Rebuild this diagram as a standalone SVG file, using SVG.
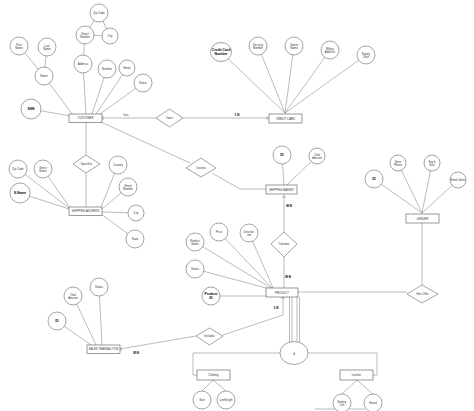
<svg xmlns="http://www.w3.org/2000/svg" width="474" height="411" viewBox="0 0 474 411">
<style>
.a{fill:#fff;stroke:#666;stroke-width:0.6}
.e{fill:#fff;stroke:#555;stroke-width:0.6}
.l{fill:none;stroke:#777;stroke-width:0.5}
text{font-family:"Liberation Sans",Arial,sans-serif;font-size:2.8px;fill:#333;text-anchor:middle}
.b{font-weight:bold;font-size:3.4px;fill:#000}
.lab{font-weight:bold;font-size:3px;fill:#000}
.lab2{font-size:3px;fill:#444}
</style>
<rect width="474" height="411" fill="#fff"/>
<g id="connectors">
<path class="l" d="M99,13L85,35M99,13L110,36M85,35L110,36M85,35L83,64M83,64L86,114M19,46L44,76M47,47L44,76M44,76L72,114M107,69L92,114M127,68L96,114M143,83L100,114M31,109L70,116"/>
<path class="l" d="M102,118H156M183,118H269"/>
<path class="l" d="M221,52L285,113M258,46L285,113M294,46L285,113M330,50L285,113M366,55L285,113"/>
<path class="l" d="M86,122V155M86,173V207"/>
<path class="l" d="M18,169L69,208M43,169L70,208M20,193L69,209M118,165L101,207M128,187L102,209M136,213L102,212M135,239L101,214"/>
<path class="l" d="M101,122L190,163M212,173L240,189H266"/>
<path class="l" d="M282,155L284,185M317,156L287,185"/>
<path class="l" d="M284,194V232M284,257V288"/>
<path class="l" d="M195,242L271,288M219,232L272,288M249,233L273,288M195,269L270,289M211,296H266"/>
<path class="l" d="M298,292H407M422,285V223"/>
<path class="l" d="M374,179L422,213M398,163L422,213M432,163L422,213M458,180L422,213"/>
<path class="l" d="M283,297V315L223,335M196,336L120,349"/>
<path class="l" d="M57,321L91,345M73,296L96,345M99,287L102,345"/>
<path class="l" d="M289.5,297V343M292,297V342M297,297V342M299.5,297V343"/>
<path class="l" d="M280,353H193V375H197M308,353H377V375H373"/>
<path class="l" d="M213,380L202,391M213,380L226,391M357,380L342,394M357,380L373,394M315,409H365"/>
<path class="l" d="M104,116L102,118L104,120M267,116V120M284,196L282,198M284,196L286,198M285,299L283,297L281,299M122,347L120,349L122,351"/>
<text class="lab2" x="126" y="116">has</text>
<text class="lab" x="237" y="116">1:N</text>
<text class="lab" x="289" y="207">M:N</text>
<text class="lab" x="288" y="278">M:N</text>
<text class="lab" x="276" y="309">1:N</text>
<text class="lab" x="136" y="354">M:N</text>
</g>
<g id="customer"><rect class="e" x="69" y="114" width="33" height="8.5"/><text x="85.5" y="119.2">CUSTOMER</text></g>
<g id="a_zip1"><circle class="a" cx="99" cy="13" r="9"/><text x="99" y="14">Zip Code</text></g>
<g id="a_stnum1"><circle class="a" cx="85" cy="35" r="9"/><text x="85" y="34.5">Street</text><text x="85" y="37.5">Number</text></g>
<g id="a_city1"><circle class="a" cx="110" cy="36" r="8"/><text x="110" y="37">City</text></g>
<g id="a_fname"><circle class="a" cx="19" cy="46" r="9"/><text x="19" y="45.5">First</text><text x="19" y="48.5">Name</text></g>
<g id="a_lname"><circle class="a" cx="47" cy="47" r="9"/><text x="47" y="46.5">Last</text><text x="47" y="49.5">Name</text></g>
<g id="a_address"><circle class="a" cx="83" cy="64" r="9"/><text x="83" y="65">Address</text></g>
<g id="a_number"><circle class="a" cx="107" cy="69" r="9"/><text x="107" y="70">Number</text></g>
<g id="a_email"><circle class="a" cx="127" cy="68" r="8"/><text x="127" y="69">Email</text></g>
<g id="a_status1"><circle class="a" cx="143" cy="83" r="9"/><text x="143" y="84">Status</text></g>
<g id="a_name"><circle class="a" cx="44" cy="76" r="9"/><text x="44" y="77">Name</text></g>
<g id="a_ssn"><circle class="a" cx="31" cy="109" r="10"/><text class="b" x="31" y="110.2">SSN</text></g>
<g id="owns"><polygon class="a" points="156,118 169.5,109 183,118 169.5,127"/><text x="169.5" y="119">Owns</text></g>
<g id="creditcard"><rect class="e" x="269" y="114" width="33" height="9"/><text x="285.5" y="119.5">CREDIT CARD</text></g>
<g id="a_ccnum"><ellipse class="a" cx="221" cy="52" rx="10.5" ry="9.5"/><text class="b" x="221" y="51">Credit Card</text><text class="b" x="221" y="55">Number</text></g>
<g id="a_secnum"><circle class="a" cx="258" cy="46" r="9"/><text x="258" y="45.5">Security</text><text x="258" y="48.5">Number</text></g>
<g id="a_owner"><circle class="a" cx="294" cy="46" r="9"/><text x="294" y="45.5">Owner</text><text x="294" y="48.5">Name</text></g>
<g id="a_billing"><circle class="a" cx="330" cy="50" r="9"/><text x="330" y="49.5">Billing</text><text x="330" y="52.5">Address</text></g>
<g id="a_expiry"><circle class="a" cx="366" cy="55" r="9"/><text x="366" y="54.5">Expiry</text><text x="366" y="57.5">Date</text></g>
<g id="specifies"><polygon class="a" points="73,164 86,155 100,164 86,173"/><text x="86.5" y="165">Specifies</text></g>
<g id="shipaddr"><rect class="e" x="69" y="207" width="33" height="8.5"/><text x="85.5" y="212.2">SHIPPING ADDRESS</text></g>
<g id="a_zip2"><circle class="a" cx="18" cy="169" r="9"/><text x="18" y="170">Zip Code</text></g>
<g id="a_stname"><circle class="a" cx="43" cy="169" r="9"/><text x="43" y="168.5">Street</text><text x="43" y="171.5">Name</text></g>
<g id="a_sname"><circle class="a" cx="20" cy="193" r="10"/><text class="b" x="20" y="194.2">S.Name</text></g>
<g id="a_country"><circle class="a" cx="118" cy="165" r="9"/><text x="118" y="166">Country</text></g>
<g id="a_stnum2"><circle class="a" cx="128" cy="187" r="9"/><text x="128" y="186.5">Street</text><text x="128" y="189.5">Number</text></g>
<g id="a_city2"><circle class="a" cx="136" cy="213" r="8"/><text x="136" y="214">City</text></g>
<g id="a_state"><circle class="a" cx="135" cy="239" r="9"/><text x="135" y="240">State</text></g>
<g id="creates"><polygon class="a" points="186,168 201,158 216,168 201,177"/><text x="201" y="169">Creates</text></g>
<g id="basket"><rect class="e" x="266" y="185" width="31" height="9"/><text x="281.5" y="190.5">SHIPPING BASKET</text></g>
<g id="a_bid"><circle class="a" cx="282" cy="155" r="9"/><text class="b" x="282" y="156.2">ID</text></g>
<g id="a_total1"><circle class="a" cx="317" cy="156" r="8"/><text x="317" y="155.5">Total</text><text x="317" y="158.5">Amount</text></g>
<g id="contains"><polygon class="a" points="271,244 284,232 297,244 284,257"/><text x="284" y="245">Contains</text></g>
<g id="product"><rect class="e" x="266" y="288" width="32" height="9"/><text x="282" y="293.5">PRODUCT</text></g>
<g id="a_pname"><circle class="a" cx="195" cy="242" r="9"/><text x="195" y="241.5">Product</text><text x="195" y="244.5">Name</text></g>
<g id="a_price"><circle class="a" cx="219" cy="232" r="9"/><text x="219" y="233">Price</text></g>
<g id="a_desc"><circle class="a" cx="249" cy="233" r="9"/><text x="249" y="232.5">Descript-</text><text x="249" y="235.5">ion</text></g>
<g id="a_pstatus"><circle class="a" cx="195" cy="269" r="9"/><text x="195" y="270">Status</text></g>
<g id="a_pid"><circle class="a" cx="211" cy="296" r="9"/><text class="b" x="211" y="295">Product</text><text class="b" x="211" y="299">ID</text></g>
<g id="hasoffer"><polygon class="a" points="407,294 422,285 438,294 422,303"/><text x="422.5" y="295">Has Offer</text></g>
<g id="lender"><rect class="e" x="406" y="214" width="33" height="9"/><text x="422.5" y="219.5">LENDER</text></g>
<g id="a_lid"><circle class="a" cx="374" cy="179" r="9"/><text class="b" x="374" y="180.2">ID</text></g>
<g id="a_store"><circle class="a" cx="398" cy="163" r="8"/><text x="398" y="162.5">Store</text><text x="398" y="165.5">Phone</text></g>
<g id="a_each"><circle class="a" cx="432" cy="163" r="8"/><text x="432" y="162.5">Each</text><text x="432" y="165.5">Sale</text></g>
<g id="a_emails"><circle class="a" cx="458" cy="180" r="8"/><text x="458" y="181">Email Sales</text></g>
<g id="includes"><polygon class="a" points="196,336 209.5,328 223,336 209.5,345"/><text x="209.5" y="337">Includes</text></g>
<g id="sales"><rect class="e" x="87" y="345" width="33" height="8.5"/><text x="103.5" y="350.2">SALES TRANSACTION</text></g>
<g id="a_sid"><circle class="a" cx="57" cy="321" r="9"/><text class="b" x="57" y="322.2">ID</text></g>
<g id="a_total2"><circle class="a" cx="73" cy="296" r="9"/><text x="73" y="295.5">Total</text><text x="73" y="298.5">Amount</text></g>
<g id="a_sstatus"><circle class="a" cx="99" cy="287" r="9"/><text x="99" y="288">Status</text></g>
<g id="disjoint"><ellipse class="a" cx="294" cy="353" rx="14" ry="11.5"/><text x="294" y="354.5" style="font-size:3.5px">d</text></g>
<g id="clothing"><rect class="e" x="197" y="370" width="33" height="10"/><text x="213.5" y="376">Clothing</text></g>
<g id="a_size"><circle class="a" cx="202" cy="400" r="9"/><text x="202" y="401">Size</text></g>
<g id="a_length"><circle class="a" cx="226" cy="400" r="9"/><text x="226" y="401">Leeflength</text></g>
<g id="leather"><rect class="e" x="340" y="370" width="33" height="10"/><text x="356.5" y="376">Leather</text></g>
<g id="a_battery"><circle class="a" cx="342" cy="403" r="9"/><text x="342" y="402.5">Battery</text><text x="342" y="405.5">Life</text></g>
<g id="a_brand"><circle class="a" cx="373" cy="403" r="9"/><text x="373" y="404">Brand</text></g>
</svg>
